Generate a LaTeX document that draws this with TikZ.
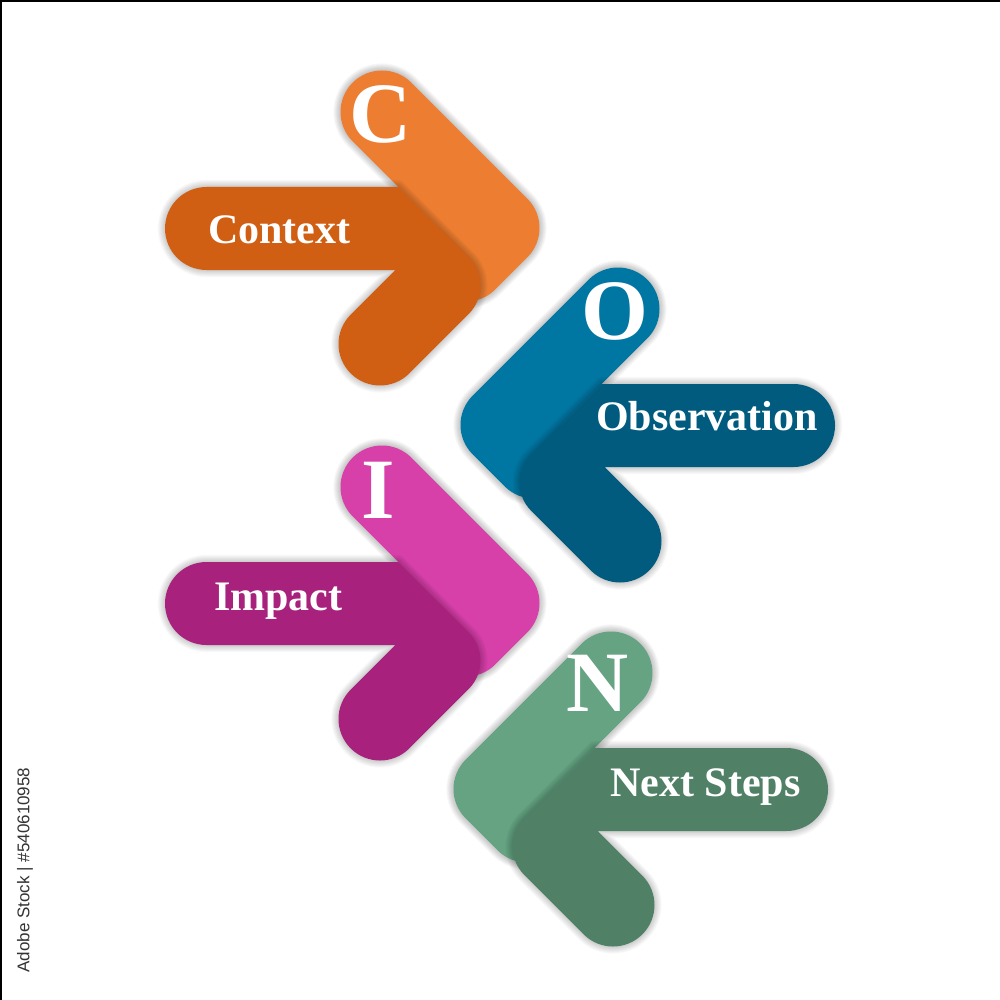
\documentclass[tikz,border=0pt]{standalone}
\usepackage{fontspec}
\setmainfont{Liberation Serif}
\newfontfamily\wmfont{Liberation Sans}
\definecolor{orL}{HTML}{ED7D31}
\definecolor{orD}{HTML}{D05E13}
\definecolor{blL}{HTML}{0077A3}
\definecolor{blD}{HTML}{005B7E}
\definecolor{pkL}{HTML}{D640A8}
\definecolor{pkD}{HTML}{A8217D}
\definecolor{gnL}{HTML}{65A382}
\definecolor{gnD}{HTML}{508066}
\tikzset{
  labeltext/.style={text=white, font=\bfseries\fontsize{42}{42}\selectfont, inner sep=0pt, anchor=base west},
  bigletter/.style={text=white, font=\bfseries\fontsize{86}{86}\selectfont, inner sep=0pt},
}
% light chevron (thick stroke)
\newcommand\coinlight[1]{%
  \path[#1, line cap=round, line join=round] (382,-112) -- (498,-228) -- (466,-260);}
% dark part (filled outline)
\newcommand\coindark[1]{%
  \path[#1] (206.5,-187) -- (398.3,-187) -- (468.7,-257.4)
    arc[start angle=45, end angle=-45, radius=40pt] -- (409.35,-373.35)
    arc[start angle=-45, end angle=-225, radius=41.5pt] -- (395.3,-270)
    -- (206.5,-270) arc[start angle=-90, end angle=-270, radius=41.5pt] -- cycle;}
\newcommand\coinarrow[2]{%
  \foreach \k in {1,...,8}{%
    \pgfmathsetmacro\lw{83+1.8*\k}%
    \coinlight{draw=black, opacity=0.028, line width=\lw pt}%
  }%
  \coinlight{draw=#1, line width=83pt}%
  \foreach \k in {1,...,8}{%
    \pgfmathsetmacro\lw{1.8*\k}%
    \coindark{draw=black, opacity=0.025, line width=\lw pt, line join=round}%
  }%
  \coindark{fill=#2}%
}
\begin{document}
\begin{tikzpicture}[x=1pt, y=1pt]
\fill[white] (0,0) rectangle (1000,-1000);
\useasboundingbox (0,0) rectangle (1000,-1000);
\draw[black, line width=2pt] (1,-1000) -- (1,-1) -- (1000,-1);

% Context (orange)
\begin{scope}
  \coinarrow{orL}{orD}
\end{scope}
% Observation (blue, mirrored)
\begin{scope}[xshift=1000pt, xscale=-1, yshift=-197pt]
  \coinarrow{blL}{blD}
\end{scope}
% Impact (pink)
\begin{scope}[yshift=-375pt]
  \coinarrow{pkL}{pkD}
\end{scope}
% Next Steps (green, mirrored)
\begin{scope}[xshift=993pt, xscale=-1, yshift=-561pt]
  \coinarrow{gnL}{gnD}
\end{scope}

% big letters
\node[bigletter] (lC) at (381,-114) {C};
\node[bigletter] (lO) at (615,-311) {O};
\node[bigletter] (lI) at (378,-490) {I};
\node[bigletter] (lN) at (597.5,-683.5) {N};

% labels
\node[labeltext] (tC) at (208,-243.3) {Context};
\node[labeltext] (tO) at (596,-430.7) {Observation};
\node[labeltext] (tI) at (214,-610) {Impact};
\node[labeltext] (tN) at (610,-796.7) {Next Steps};

% side credit
\node[rotate=90, text=black!80, font=\wmfont\fontsize{17}{17}\selectfont, inner sep=0pt] (wm) at (25,-870) {Adobe Stock | \#540610958};
\end{tikzpicture}
\end{document}
